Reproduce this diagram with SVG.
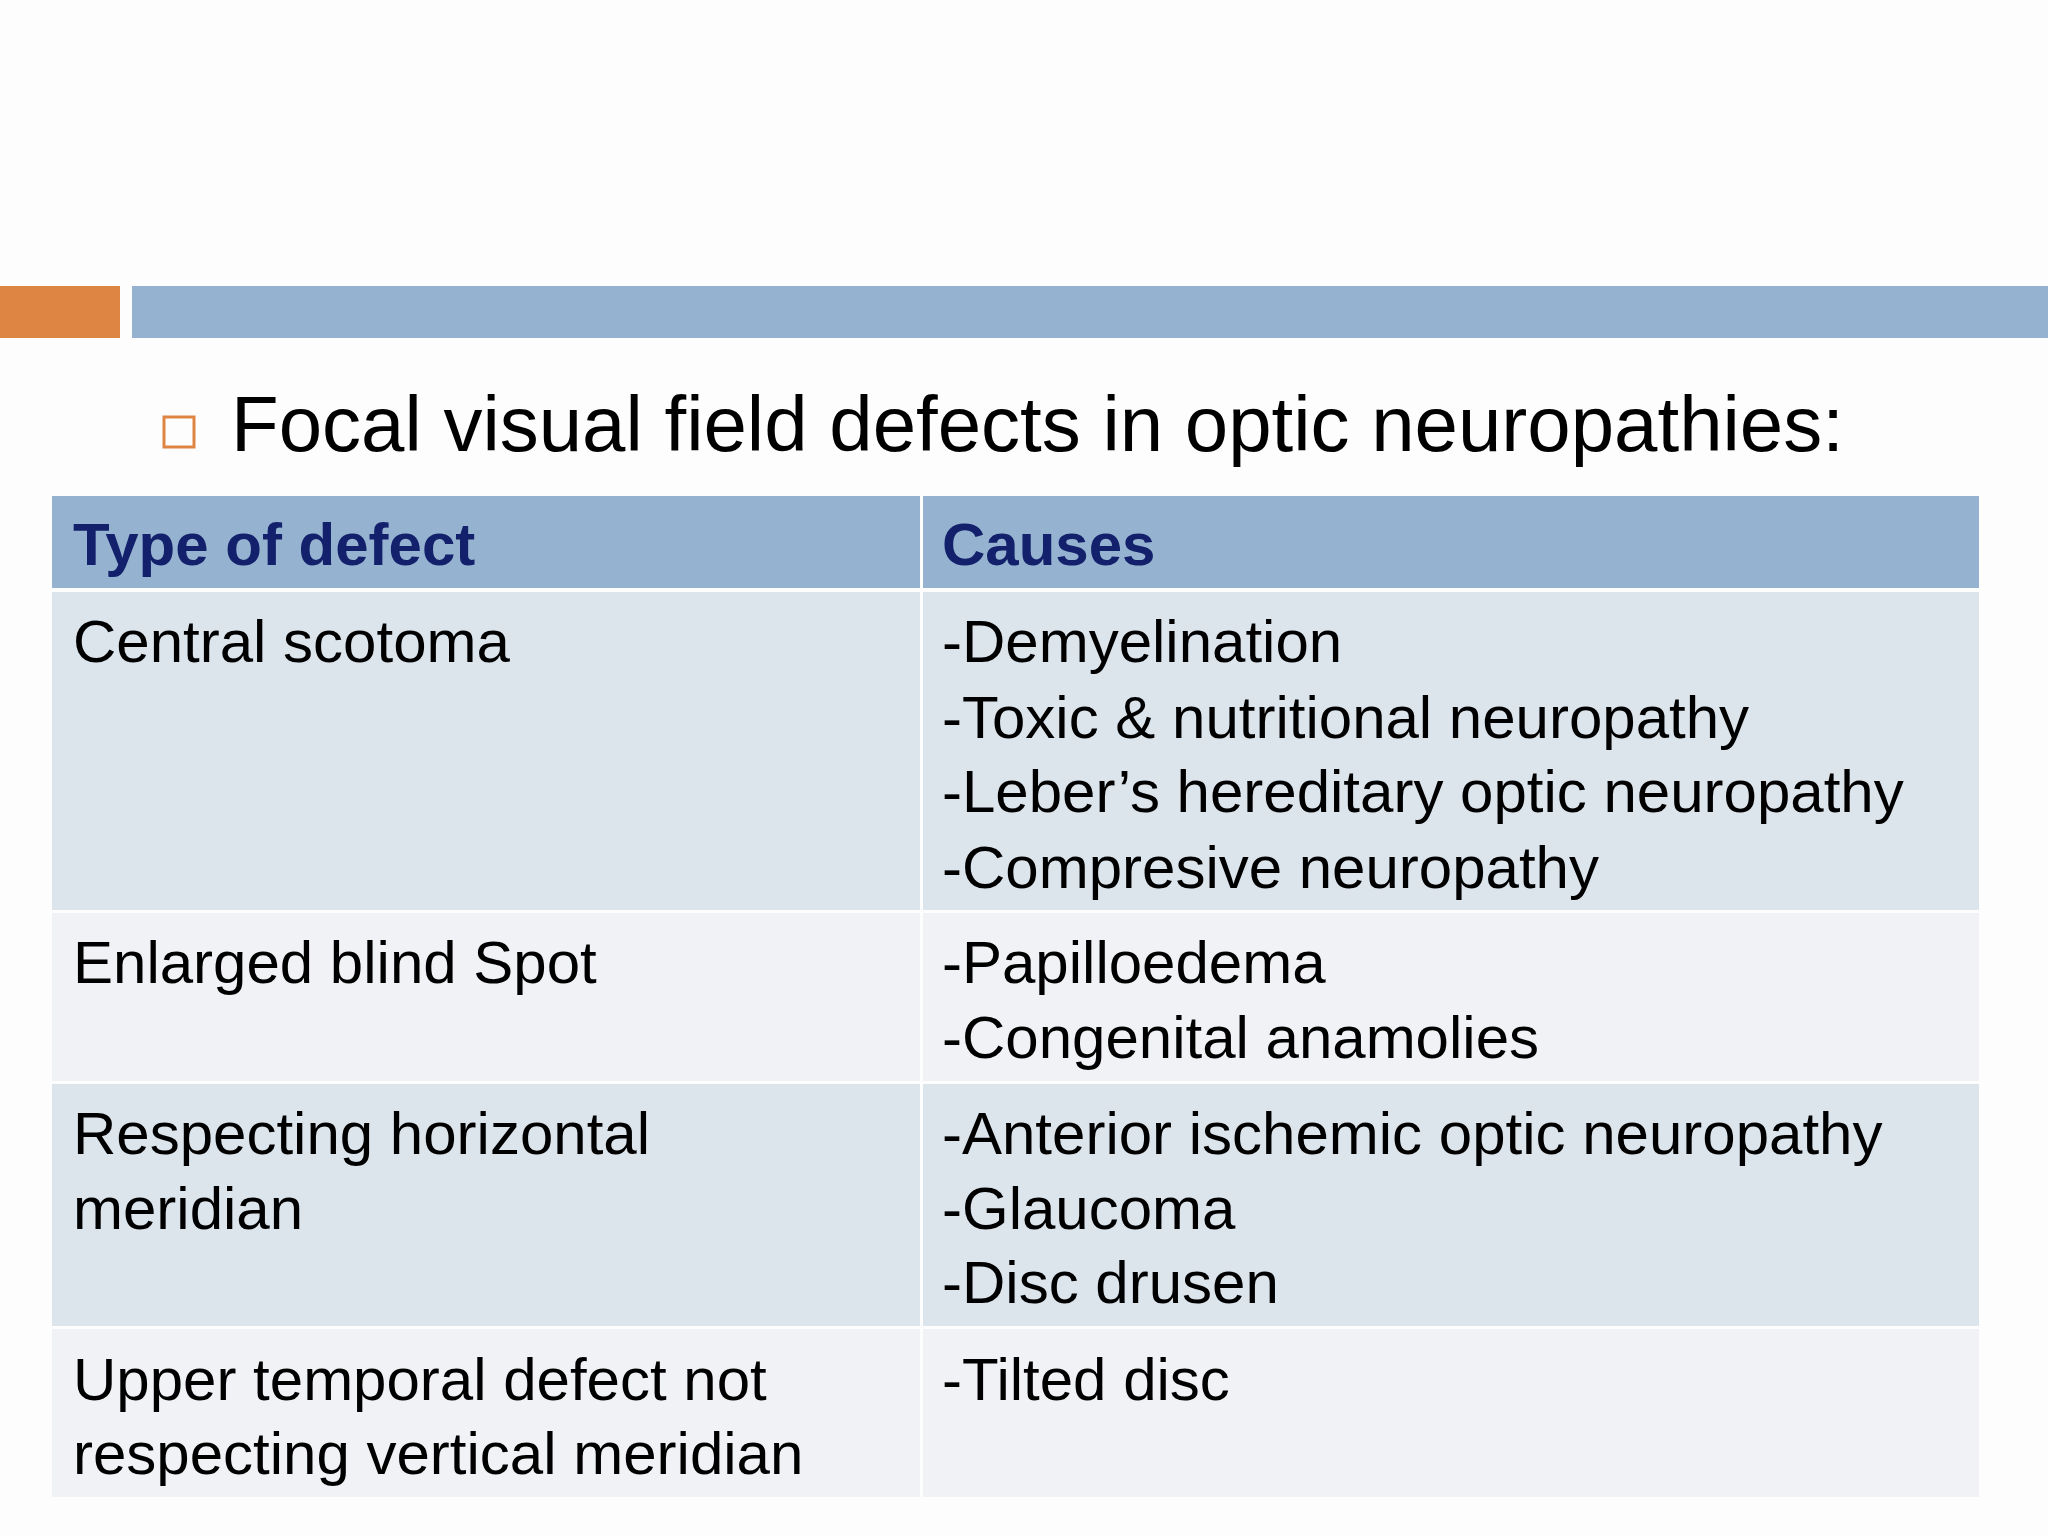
<svg xmlns="http://www.w3.org/2000/svg" width="2048" height="1536" viewBox="0 0 2048 1536">
<style>
text{font-family:"Liberation Sans",Arial,sans-serif;fill:#000}
.c{font-size:60px}
.h{font-size:60px;font-weight:bold;fill:#13206B}
.a{fill:#DCE4EC}.b{fill:#F0F2F5}
</style>
<rect width="2048" height="1536" fill="#FDFDFD"/>
<rect x="0" y="286" width="120" height="52" fill="#DF8544"/>
<rect x="132" y="286" width="1916" height="52" fill="#95B3D0"/>
<g id="title">
<rect x="164" y="417" width="30" height="30" fill="none" stroke="#DF8544" stroke-width="3"/>
<text x="231" y="451" style="font-size:78px">Focal visual field defects in optic neuropathies:</text>
</g>
<g id="table">
<rect x="52" y="496" width="868" height="92" fill="#95B3D0"/>
<rect x="923" y="496" width="1056" height="92" fill="#95B3D0"/>
<rect x="52" y="592" width="868" height="318" class="a"/>
<rect x="923" y="592" width="1056" height="318" class="a"/>
<rect x="52" y="913" width="868" height="168" class="b"/>
<rect x="923" y="913" width="1056" height="168" class="b"/>
<rect x="52" y="1084" width="868" height="242" class="a"/>
<rect x="923" y="1084" width="1056" height="242" class="a"/>
<rect x="52" y="1329" width="868" height="168" class="b"/>
<rect x="923" y="1329" width="1056" height="168" class="b"/>
<text x="73" y="565" class="h">Type of defect</text>
<text x="942" y="565" class="h">Causes</text>
<text class="c" x="73" y="662">Central scotoma</text>
<text class="c" x="942" y="662">-Demyelination</text>
<text class="c" x="942" y="738">-Toxic &amp; nutritional neuropathy</text>
<text class="c" x="942" y="812">-Leber’s hereditary optic neuropathy</text>
<text class="c" x="942" y="888">-Compresive neuropathy</text>
<text class="c" x="73" y="983">Enlarged blind Spot</text>
<text class="c" x="942" y="983">-Papilloedema</text>
<text class="c" x="942" y="1058">-Congenital anamolies</text>
<text class="c" x="73" y="1154">Respecting horizontal</text>
<text class="c" x="73" y="1229">meridian</text>
<text class="c" x="942" y="1154">-Anterior ischemic optic neuropathy</text>
<text class="c" x="942" y="1229">-Glaucoma</text>
<text class="c" x="942" y="1303">-Disc drusen</text>
<text class="c" x="73" y="1400">Upper temporal defect not</text>
<text class="c" x="73" y="1474">respecting vertical meridian</text>
<text class="c" x="942" y="1400">-Tilted disc</text>
</g>
</svg>
